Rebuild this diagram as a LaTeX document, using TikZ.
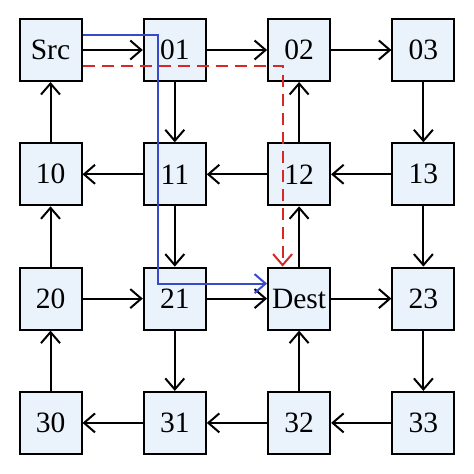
\documentclass[tikz,border=0pt]{standalone}
\usepackage{fontspec}
\setmainfont{Liberation Serif}
\usetikzlibrary{arrows.meta}
\definecolor{boxfill}{RGB}{234,242,252}
\definecolor{pathblue}{RGB}{55,75,200}
\definecolor{pathred}{RGB}{215,40,40}
\begin{document}
\begin{tikzpicture}[x=1pt,y=-1pt,
  nodebox/.style={draw=black,fill=boxfill,line width=2pt,minimum width=62pt,minimum height=62pt,inner sep=0pt,font=\fontsize{29.5}{31}\selectfont},
  link/.style={line width=2pt,-{Straight Barb[length=11pt,width=19pt,line width=2pt]}},
  bluepath/.style={pathblue,line width=2pt,-{Straight Barb[length=11pt,width=19pt,line width=2pt]}},
  redpath/.style={pathred,line width=2pt,dash pattern=on 12pt off 7pt,-{Straight Barb[length=11pt,width=19pt,line width=2pt]}}]
\useasboundingbox (0,0) rectangle (474,474);
% row 0
\node[nodebox] (src) at (50.5,50) {Src};
\node[nodebox] (n01) at (174.8,50) {01};
\node[nodebox] (n02) at (299.1,50) {02};
\node[nodebox] (n03) at (423.4,50) {03};
% row 1
\node[nodebox] (n10) at (50.5,174.3) {10};
\node[nodebox] (n11) at (174.8,174.3) {11};
\node[nodebox] (n12) at (299.1,174.3) {12};
\node[nodebox] (n13) at (423.4,174.3) {13};
% row 2
\node[nodebox] (n20) at (50.5,298.6) {20};
\node[nodebox] (n21) at (174.8,298.6) {21};
\node[nodebox] (dest) at (299.1,298.6) {Dest};
\node[nodebox] (n23) at (423.4,298.6) {23};
% row 3
\node[nodebox] (n30) at (50.5,422.9) {30};
\node[nodebox] (n31) at (174.8,422.9) {31};
\node[nodebox] (n32) at (299.1,422.9) {32};
\node[nodebox] (n33) at (423.4,422.9) {33};
% horizontal links
\draw[link] (src) -- (n01);
\draw[link] (n01) -- (n02);
\draw[link] (n02) -- (n03);
\draw[link] (n11) -- (n10);
\draw[link] (n12) -- (n11);
\draw[link] (n13) -- (n12);
\draw[link] (n20) -- (n21);
\draw[link] (n21) -- (dest);
\draw[link] (dest) -- (n23);
\draw[link] (n31) -- (n30);
\draw[link] (n32) -- (n31);
\draw[link] (n33) -- (n32);
% vertical links
\draw[link] (n10) -- (src);
\draw[link] (n01) -- (n11);
\draw[link] (n12) -- (n02);
\draw[link] (n03) -- (n13);
\draw[link] (n20) -- (n10);
\draw[link] (n11) -- (n21);
\draw[link] (dest) -- (n12);
\draw[link] (n13) -- (n23);
\draw[link] (n30) -- (n20);
\draw[link] (n21) -- (n31);
\draw[link] (n32) -- (dest);
\draw[link] (n23) -- (n33);
% routes
\draw[bluepath] ([yshift=15pt]src.east) -| ([xshift=-16.5pt]n11.center) |- ([yshift=15pt]dest.west);
\draw[redpath] ([yshift=-16pt]src.east) -| ([xshift=-16.5pt]dest.north);
\end{tikzpicture}
\end{document}
